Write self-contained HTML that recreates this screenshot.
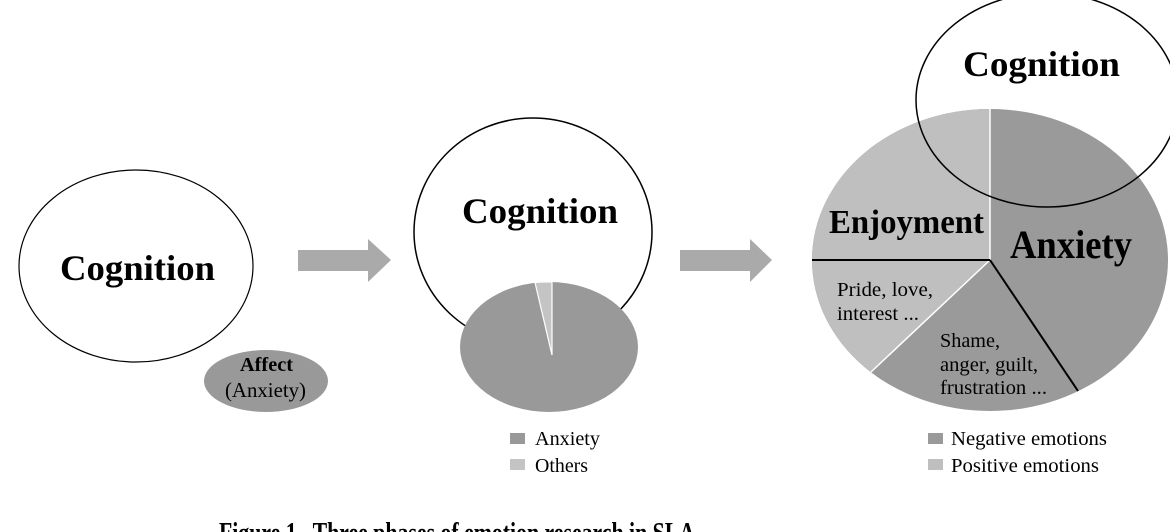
<!DOCTYPE html>
<html><head><meta charset="utf-8"><style>
html,body{margin:0;padding:0;background:#fff;}
svg{display:block;}
text{font-family:"Liberation Serif",serif;fill:#000;}
</style></head><body>
<svg width="1170" height="532" viewBox="0 0 1170 532" xmlns="http://www.w3.org/2000/svg">
<!-- Phase 1 -->
<ellipse cx="136" cy="266" rx="117" ry="96" fill="#fff" stroke="#000" stroke-width="1.2"/>
<text x="60" y="280" font-size="36" font-weight="bold" textLength="155" lengthAdjust="spacingAndGlyphs">Cognition</text>
<ellipse cx="266" cy="381" rx="62" ry="31" fill="#999"/>
<text x="240" y="371" font-size="20" font-weight="bold" textLength="53" lengthAdjust="spacingAndGlyphs">Affect</text>
<text x="225" y="397" font-size="21" textLength="81" lengthAdjust="spacingAndGlyphs">(Anxiety)</text>
<!-- Arrows -->
<polygon points="298,250 368,250 368,239 391,260 368,282 368,271 298,271" fill="#aaa"/>
<polygon points="680,250 750,250 750,239 772,260 750,282 750,271 680,271" fill="#aaa"/>
<!-- Phase 2 -->
<ellipse cx="533" cy="232" rx="119" ry="114" fill="#fff" stroke="#000" stroke-width="1.5"/>
<text x="462" y="223" font-size="36" font-weight="bold" textLength="156" lengthAdjust="spacingAndGlyphs">Cognition</text>
<ellipse cx="549" cy="347" rx="89" ry="65" fill="#999"/>
<path d="M552,355 L535,282.5 A89,65 0 0 1 552,282 Z" fill="#c4c4c4" stroke="#fff" stroke-width="1.2"/>
<rect x="510" y="433" width="15" height="11" fill="#999"/>
<text x="535" y="445" font-size="20" textLength="65" lengthAdjust="spacingAndGlyphs">Anxiety</text>
<rect x="510" y="459" width="15" height="11" fill="#c4c4c4"/>
<text x="535" y="472" font-size="20" textLength="53" lengthAdjust="spacingAndGlyphs">Others</text>
<!-- Phase 3 -->
<ellipse cx="990" cy="260" rx="178" ry="151" fill="#9a9a9a"/>
<path d="M990,260 L812,260 A178,151 0 0 1 990,109 Z" fill="#bfbfbf"/>
<path d="M990,260 L871,372 A178,151 0 0 1 812,260 Z" fill="#bfbfbf"/>
<line x1="990" y1="109" x2="990" y2="260" stroke="#fff" stroke-width="1.5"/>
<line x1="990" y1="260" x2="871" y2="372" stroke="#fff" stroke-width="1.5"/>
<line x1="812" y1="260" x2="990" y2="260" stroke="#000" stroke-width="2"/>
<line x1="990" y1="260" x2="1078" y2="391" stroke="#000" stroke-width="2"/>
<ellipse cx="1047" cy="100" rx="131" ry="107" fill="none" stroke="#000" stroke-width="1.5"/>
<text x="963" y="76" font-size="36" font-weight="bold" textLength="157" lengthAdjust="spacingAndGlyphs">Cognition</text>
<text x="829" y="233" font-size="34" font-weight="bold" textLength="155" lengthAdjust="spacingAndGlyphs">Enjoyment</text>
<text x="1010" y="258" font-size="40" font-weight="bold" textLength="122" lengthAdjust="spacingAndGlyphs">Anxiety</text>
<text x="837" y="296" font-size="20" textLength="96" lengthAdjust="spacingAndGlyphs">Pride, love,</text>
<text x="837" y="320" font-size="20" textLength="82" lengthAdjust="spacingAndGlyphs">interest ...</text>
<text x="940" y="347" font-size="20" textLength="60" lengthAdjust="spacingAndGlyphs">Shame,</text>
<text x="940" y="371" font-size="20" textLength="98" lengthAdjust="spacingAndGlyphs">anger, guilt,</text>
<text x="940" y="394" font-size="20" textLength="107" lengthAdjust="spacingAndGlyphs">frustration ...</text>
<rect x="928" y="433" width="15" height="11" fill="#9a9a9a"/>
<text x="951" y="445" font-size="20" textLength="156" lengthAdjust="spacingAndGlyphs">Negative emotions</text>
<rect x="928" y="459" width="15" height="11" fill="#bfbfbf"/>
<text x="951" y="472" font-size="20" textLength="148" lengthAdjust="spacingAndGlyphs">Positive emotions</text>
<!-- Caption -->
<text x="219" y="542" font-size="28" font-weight="bold" textLength="476" lengthAdjust="spacingAndGlyphs" xml:space="preserve">Figure 1   Three phases of emotion research in SLA</text>
</svg>
</body></html>
